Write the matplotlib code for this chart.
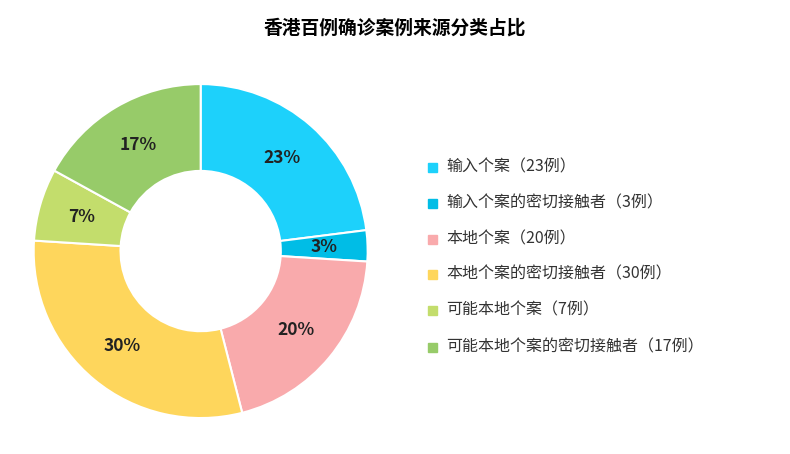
import matplotlib
matplotlib.use("Agg")
import matplotlib.pyplot as plt

plt.rcParams['font.family'] = ['Noto Sans CJK SC', 'DejaVu Sans']

labels = ["输入个案（23例）", "输入个案的密切接触者（3例）", "本地个案（20例）",
          "本地个案的密切接触者（30例）", "可能本地个案（7例）", "可能本地个案的密切接触者（17例）"]
values = [23, 3, 20, 30, 7, 17]
colors = ["#1dd1fb", "#00bde6", "#f9aaac", "#fed65c", "#c3dd6c", "#97cb69"]

fig = plt.figure(figsize=(7.9, 4.54), dpi=100)
ax = fig.add_axes([0.254 - 0.2114, 0.447 - 0.3678, 0.4228, 0.7356])
wedges, texts, autotexts = ax.pie(values, colors=colors, startangle=90, counterclock=False,
                                  autopct='%d%%', pctdistance=0.74,
                                  wedgeprops=dict(width=0.52, edgecolor='white', linewidth=1.5),
                                  textprops=dict(fontsize=12.5, fontweight='bold', color='#222222'))
ax.set_aspect('equal')
ax.set_xlim(-1.0, 1.0)
ax.set_ylim(-1.0, 1.0)

fig.text(0.5, 0.938, "香港百例确诊案例来源分类占比", ha='center', va='center',
         fontsize=13.5, fontweight='bold')

ys = [167, 203, 239, 274, 310, 347]
for lab, c, y in zip(labels, colors, ys):
    fy = 1 - y / 454
    fig.patches.append(plt.Rectangle((428 / 790, fy - 4.5 / 454), 9 / 790, 9 / 454,
                                     transform=fig.transFigure, color=c))
    fig.text(446 / 790, fy, lab, va='center', ha='left', fontsize=11.5, color='#333333')

fig.savefig("out.png", dpi=100)
